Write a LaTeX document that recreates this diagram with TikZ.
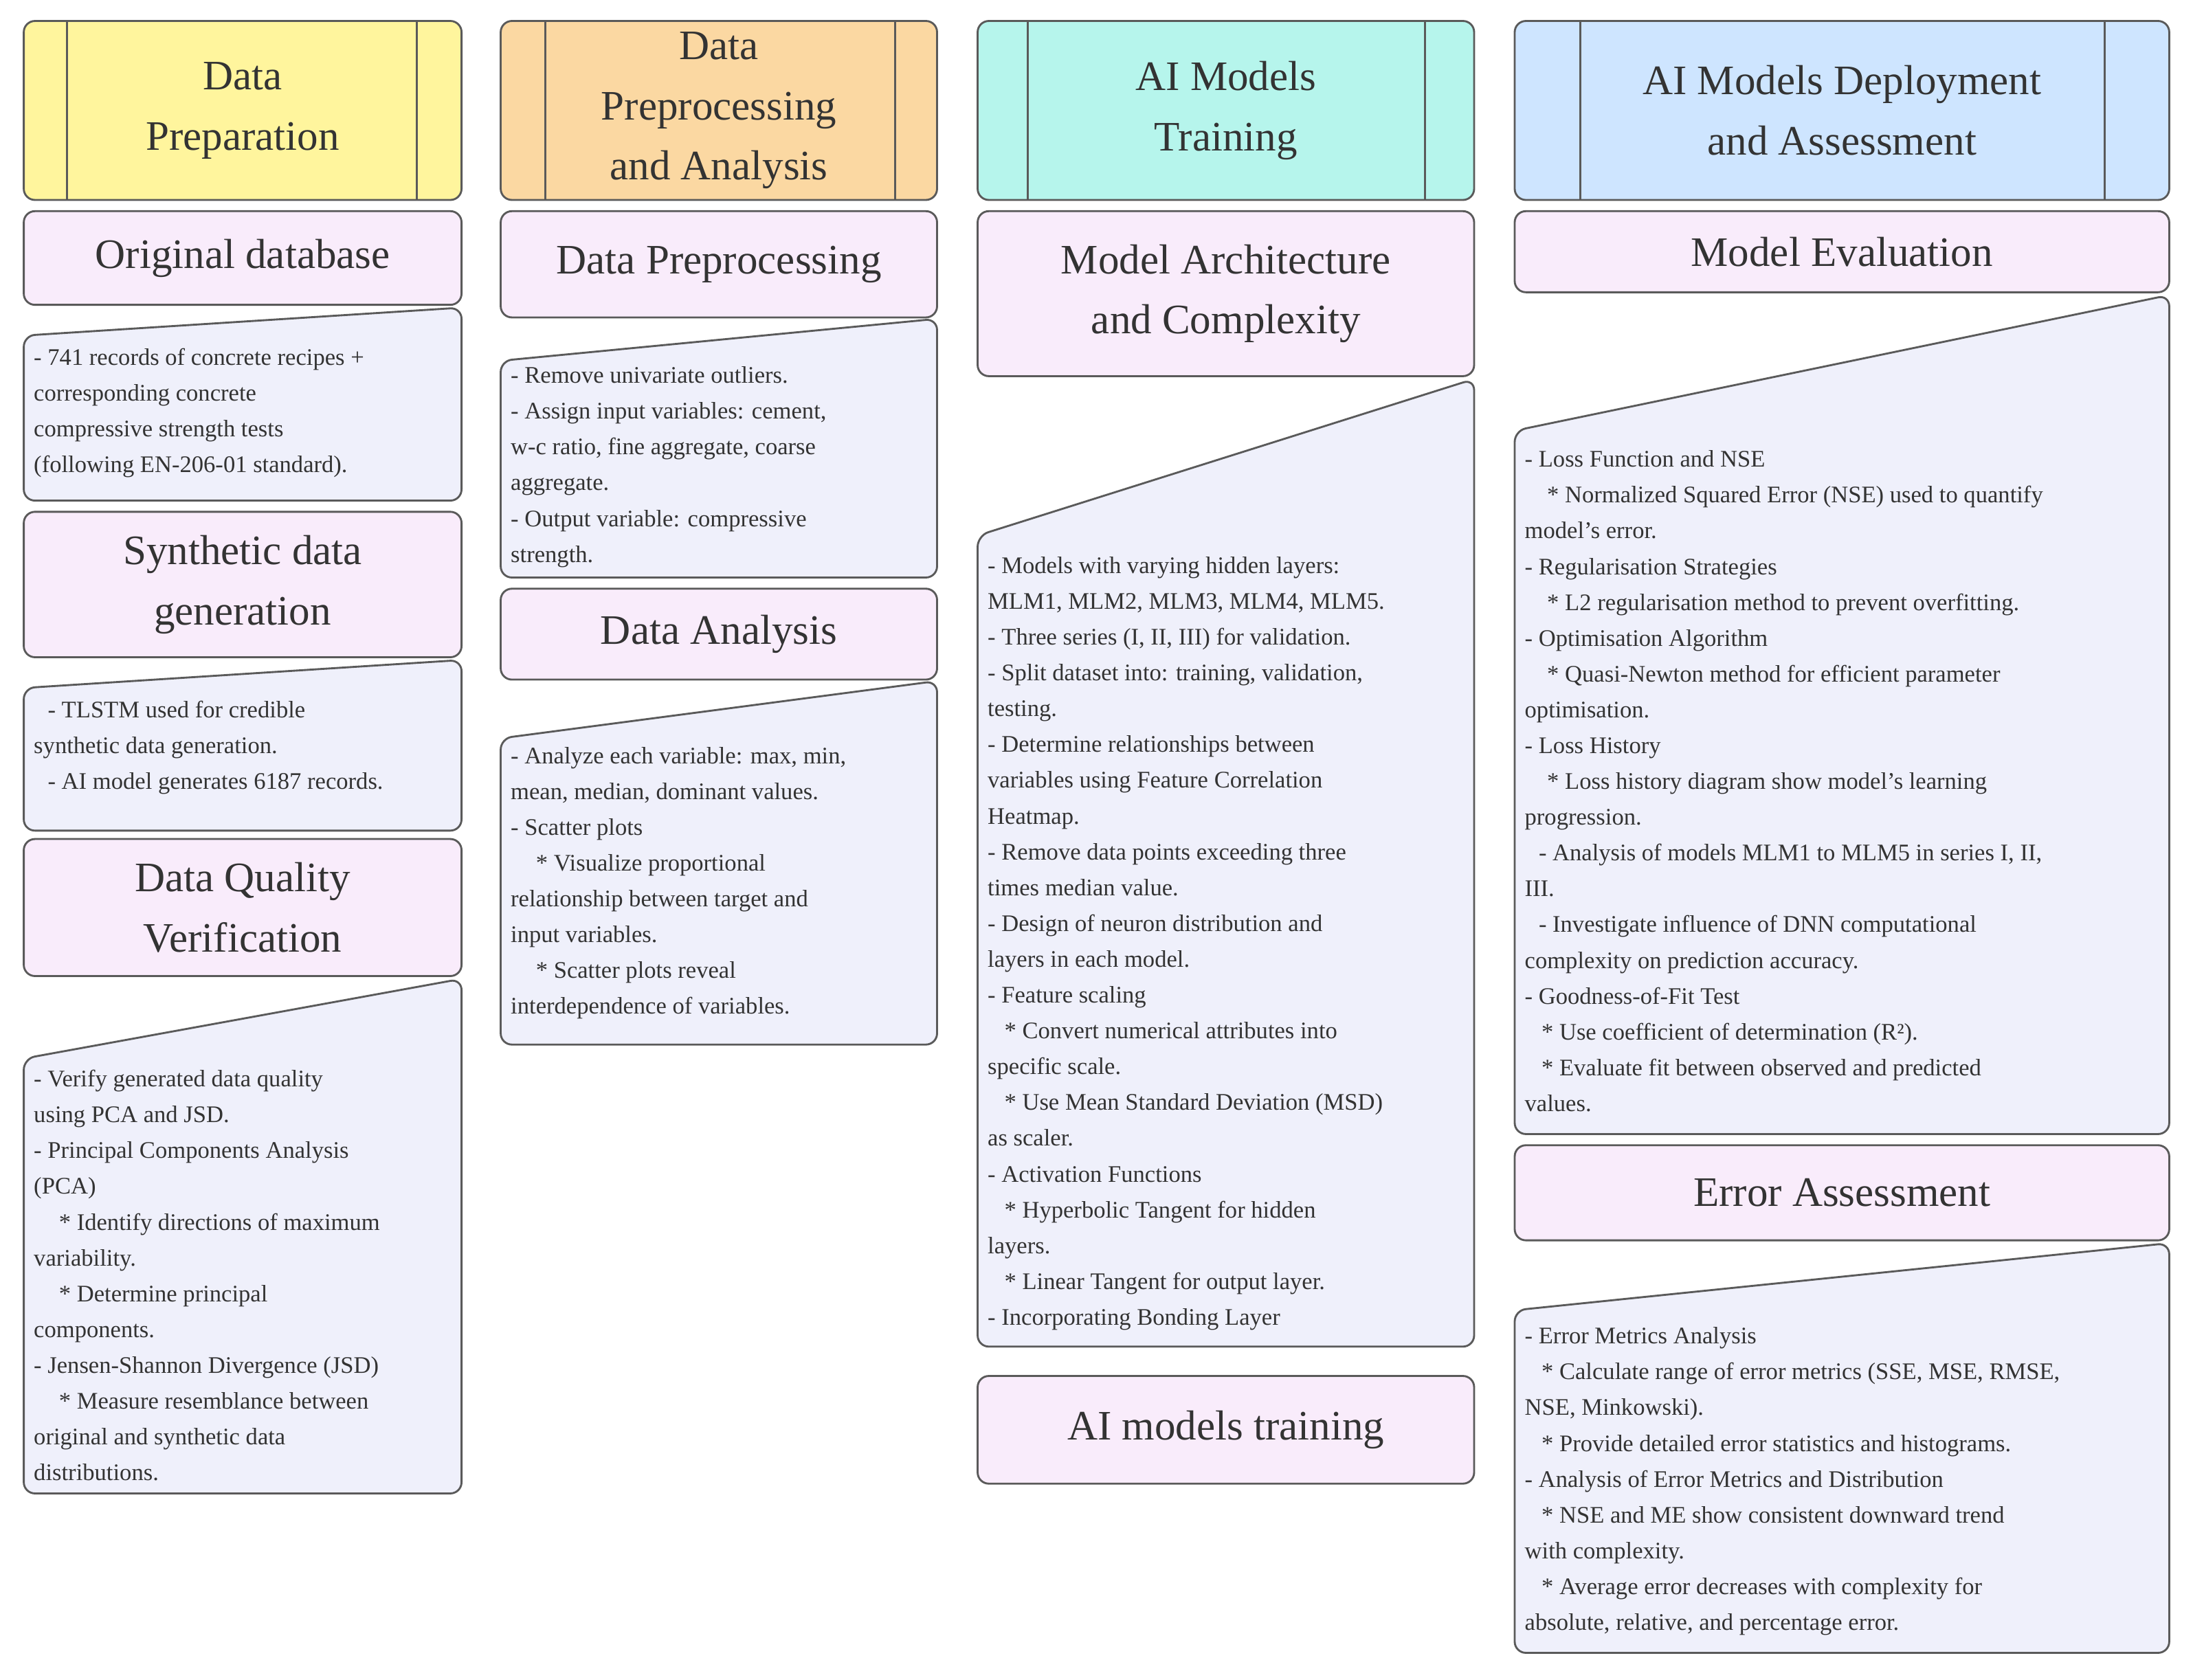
\documentclass[tikz,border=0pt]{standalone}
\usepackage{fontspec}
\setmainfont{Liberation Serif}
\usetikzlibrary{positioning}
\definecolor{edge}{HTML}{5A5A5A}
\definecolor{ink}{HTML}{333333}
\definecolor{fillY}{HTML}{FFF59D}
\definecolor{fillO}{HTML}{FBD8A2}
\definecolor{fillT}{HTML}{B6F5EC}
\definecolor{fillB}{HTML}{CEE5FF}
\definecolor{fillP}{HTML}{F9ECFB}
\definecolor{fillL}{HTML}{EFF0FB}
\newcommand{\ind}[1]{\hspace*{#1pt}}
\tikzset{
  head/.style={draw=edge,line width=1.4pt,rounded corners=8pt,text=ink,align=center,font=\fontsize{30}{43}\selectfont},
  topic/.style={draw=edge,fill=fillP,line width=1.4pt,rounded corners=8pt,text=ink,align=center,font=\fontsize{30}{43}\selectfont,inner sep=0pt},
  note/.style={draw=edge,fill=fillL,line width=1.4pt,rounded corners=8pt},
  body/.style={anchor=north west,inner sep=0pt,text=ink,align=left,font=\fontsize{17}{25.6}\selectfont}
}
\begin{document}
\begin{tikzpicture}[x=1pt,y=-1pt]
\useasboundingbox (0,0) rectangle (1568,1201);
% headers
\node[head,fill=fillY,minimum width=313pt,minimum height=128pt] (hprep) at (173.5,79) {Data\\Preparation};
\node[head,fill=fillO,minimum width=312pt,minimum height=128pt] (hproc) at (514,79) {Data\\Preprocessing\\and Analysis};
\node[head,fill=fillT,minimum width=355pt,minimum height=128pt] (htrain) at (876.5,79) {AI Models\\Training};
\node[head,fill=fillB,minimum width=468pt,minimum height=128pt] (hdeploy) at (1317,79) {AI Models Deployment\\and Assessment};
\foreach \xa/\xb in {48/298,390/640,735/1019,1130/1505}{
  \draw[edge,line width=1.4pt] (\xa,15) -- (\xa,143);
  \draw[edge,line width=1.4pt] (\xb,15) -- (\xb,143);
}
% column 1
\node[topic,minimum width=313pt,minimum height=67pt] (orig) at (173.5,184.5) {Original database};
\draw[note] (17,240) -- (330,220) -- (330,358) -- (17,358) -- cycle;
\node[body] (origtxt) at (24,249) {- 741 records of concrete recipes +\\corresponding concrete\\compressive strength tests\\(following EN-206-01 standard).};
\node[topic,minimum width=313pt,minimum height=104pt] (synth) at (173.5,418) {Synthetic data\\generation};
\draw[note] (17,492) -- (330,472) -- (330,594) -- (17,594) -- cycle;
\node[body] (synthtxt) at (24,501) {\ind{10}- TLSTM used for credible\\synthetic data generation.\\\ind{10}- AI model generates 6187 records.};
\node[topic,minimum width=313pt,minimum height=98pt] (quality) at (173.5,649) {Data Quality\\Verification};
\draw[note] (17,757) -- (330,700) -- (330,1068) -- (17,1068) -- cycle;
\node[body] (qualitytxt) at (24,765) {- Verify generated data quality\\using PCA and JSD.\\- Principal Components Analysis\\(PCA)\\\ind{18}* Identify directions of maximum\\variability.\\\ind{18}* Determine principal\\components.\\- Jensen-Shannon Divergence (JSD)\\\ind{18}* Measure resemblance between\\original and synthetic data\\distributions.};
% column 2
\node[topic,minimum width=312pt,minimum height=76pt] (preproc) at (514,189) {Data Preprocessing};
\draw[note] (358,258) -- (670,228) -- (670,413) -- (358,413) -- cycle;
\node[body] (preproctxt) at (365,262) {- Remove univariate outliers.\\- Assign input variables: cement,\\w-c ratio, fine aggregate, coarse\\aggregate.\\- Output variable: compressive\\strength.};
\node[topic,minimum width=312pt,minimum height=65pt] (analysis) at (514,453.5) {Data Analysis};
\draw[note] (358,528) -- (670,487) -- (670,747) -- (358,747) -- cycle;
\node[body] (analysistxt) at (365,534) {- Analyze each variable: max, min,\\mean, median, dominant values.\\- Scatter plots\\\ind{18}* Visualize proportional\\relationship between target and\\input variables.\\\ind{18}* Scatter plots reveal\\interdependence of variables.};
% column 3
\node[topic,minimum width=355pt,minimum height=118pt] (arch) at (876.5,210) {Model Architecture\\and Complexity};
\draw[note] (699,383) -- (1054,271) -- (1054,963) -- (699,963) -- cycle;
\node[body] (archtxt) at (706,398) {- Models with varying hidden layers:\\MLM1, MLM2, MLM3, MLM4, MLM5.\\- Three series (I, II, III) for validation.\\- Split dataset into: training, validation,\\testing.\\- Determine relationships between\\variables using Feature Correlation\\Heatmap.\\- Remove data points exceeding three\\times median value.\\- Design of neuron distribution and\\layers in each model.\\- Feature scaling\\\ind{12}* Convert numerical attributes into\\specific scale.\\\ind{12}* Use Mean Standard Deviation (MSD)\\as scaler.\\- Activation Functions\\\ind{12}* Hyperbolic Tangent for hidden\\layers.\\\ind{12}* Linear Tangent for output layer.\\- Incorporating Bonding Layer};
\node[topic,minimum width=355pt,minimum height=77pt] (aitrain) at (876.5,1022.5) {AI models training};
% column 4
\node[topic,minimum width=468pt,minimum height=58pt] (eval) at (1317,180) {Model Evaluation};
\draw[note] (1083,308) -- (1551,211) -- (1551,811) -- (1083,811) -- cycle;
\node[body] (evaltxt) at (1090,322) {- Loss Function and NSE\\\ind{16}* Normalized Squared Error (NSE) used to quantify\\model's error.\\- Regularisation Strategies\\\ind{16}* L2 regularisation method to prevent overfitting.\\- Optimisation Algorithm\\\ind{16}* Quasi-Newton method for efficient parameter\\optimisation.\\- Loss History\\\ind{16}* Loss history diagram show model's learning\\progression.\\\ind{10}- Analysis of models MLM1 to MLM5 in series I, II,\\III.\\\ind{10}- Investigate influence of DNN computational\\complexity on prediction accuracy.\\- Goodness-of-Fit Test\\\ind{12}* Use coefficient of determination (R²).\\\ind{12}* Evaluate fit between observed and predicted\\values.};
\node[topic,minimum width=468pt,minimum height=68pt] (error) at (1317,853) {Error Assessment};
\draw[note] (1083,937) -- (1551,889) -- (1551,1182) -- (1083,1182) -- cycle;
\node[body] (errortxt) at (1090,949) {- Error Metrics Analysis\\\ind{12}* Calculate range of error metrics (SSE, MSE, RMSE,\\NSE, Minkowski).\\\ind{12}* Provide detailed error statistics and histograms.\\- Analysis of Error Metrics and Distribution\\\ind{12}* NSE and ME show consistent downward trend\\with complexity.\\\ind{12}* Average error decreases with complexity for\\absolute, relative, and percentage error.};
\end{tikzpicture}
\end{document}
